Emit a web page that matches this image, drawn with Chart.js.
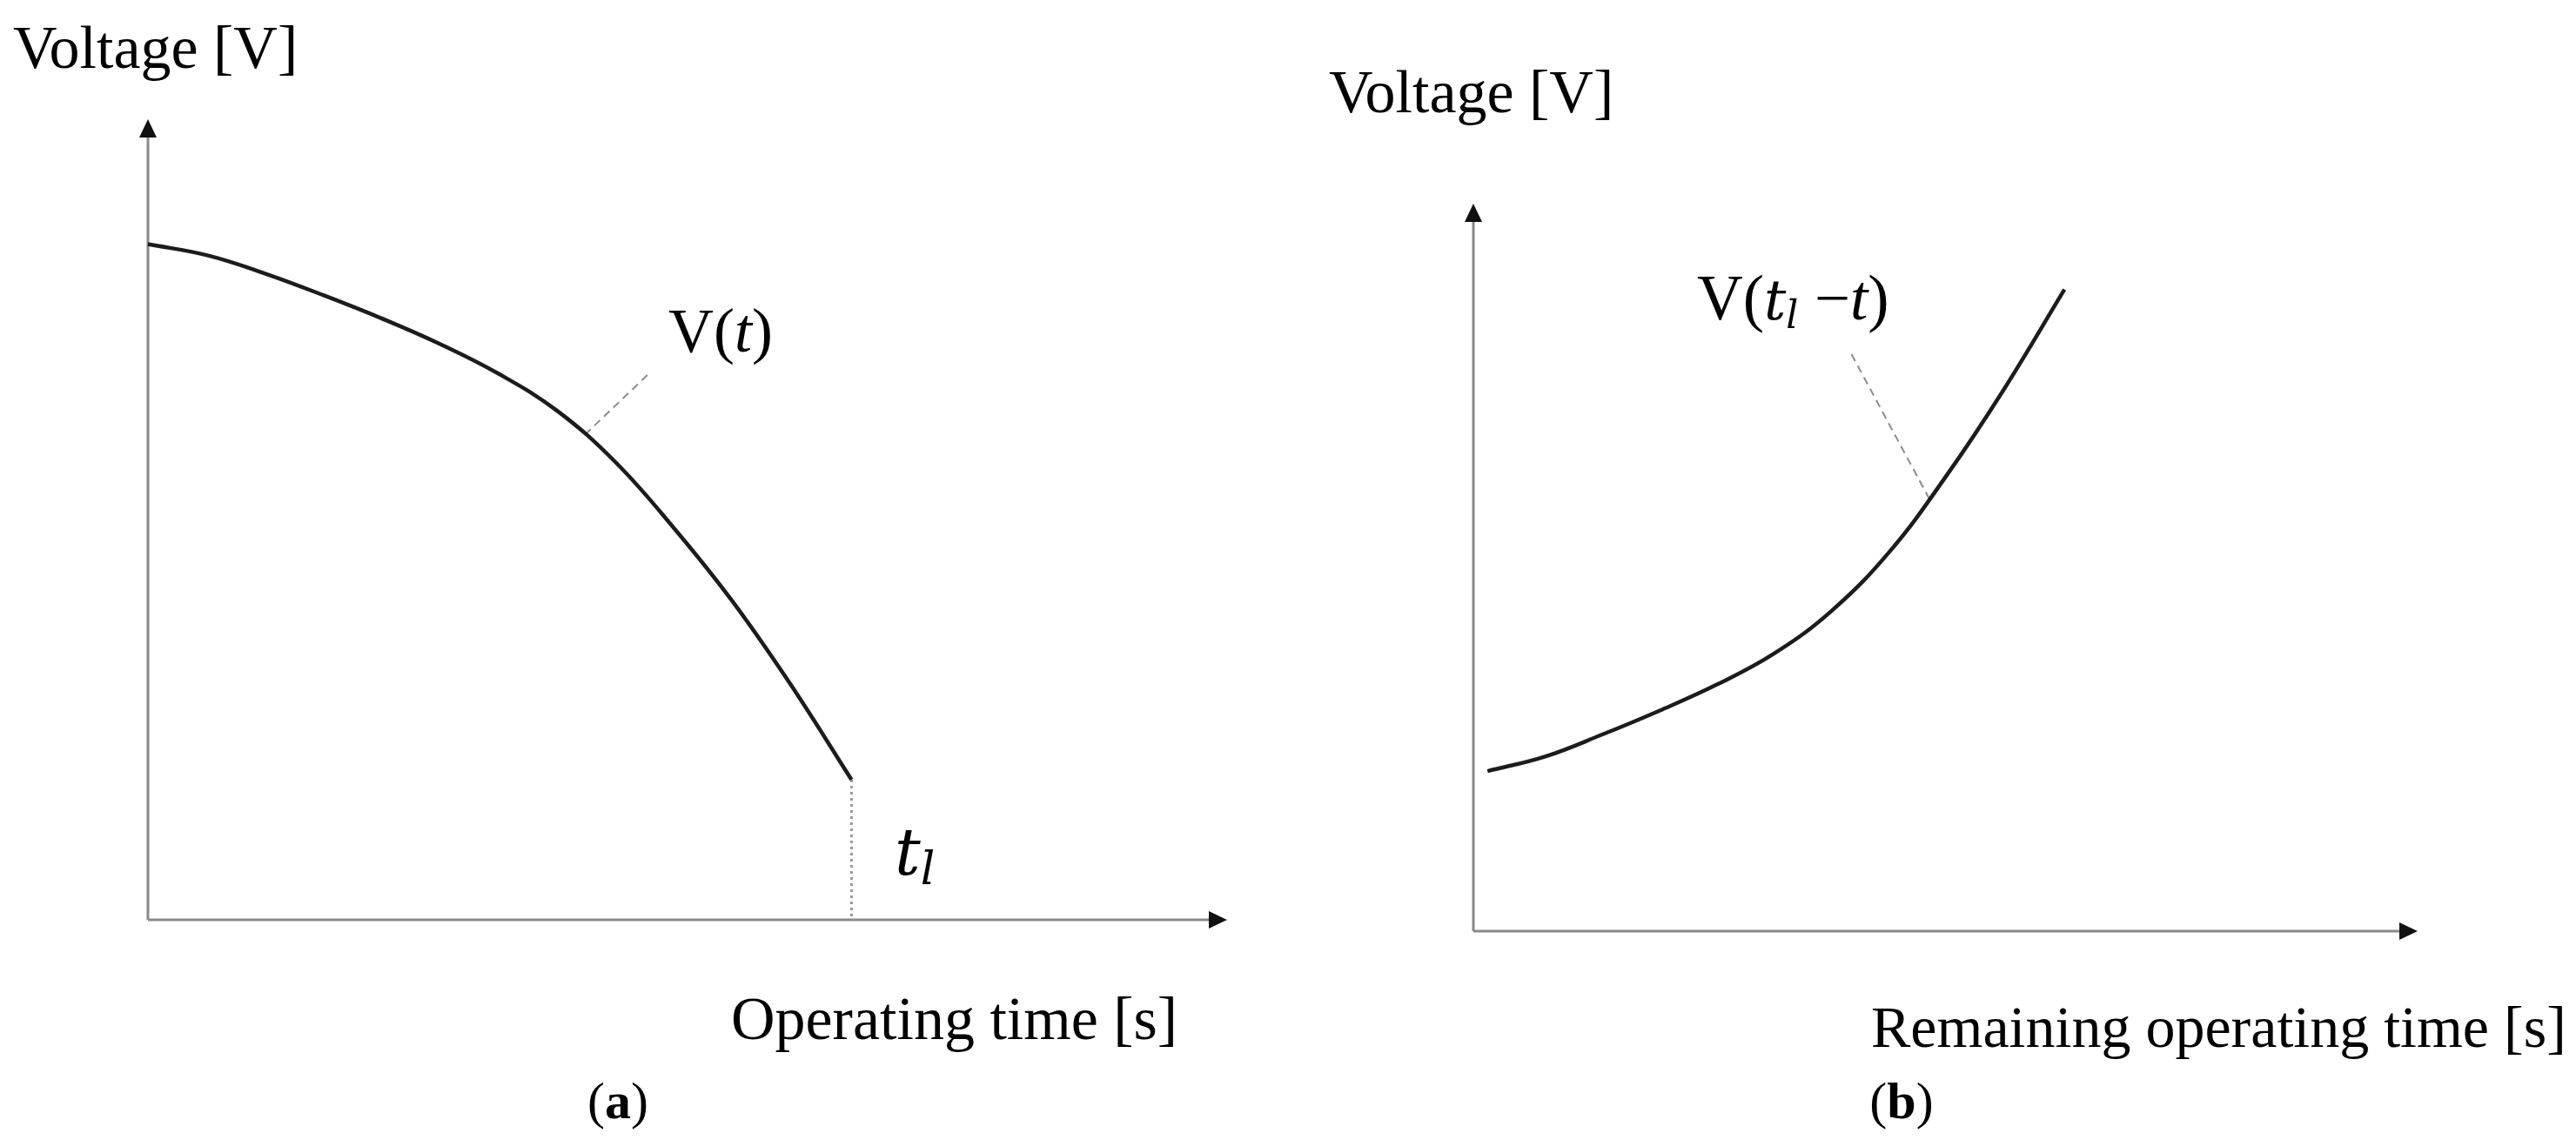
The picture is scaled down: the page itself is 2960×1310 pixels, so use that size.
<!DOCTYPE html>
<html>
<head>
<meta charset="utf-8">
<script src="https://cdn.jsdelivr.net/npm/chart.js@4.4.1/dist/chart.umd.min.js"></script>
<style>
  html, body { margin: 0; padding: 0; background: #fff; }
  #stage { position: relative; width: 2960px; height: 1310px; overflow: hidden; background: #fff; }
  .panel { position: absolute; top: 0; width: 1480px; height: 1310px; }
  .lbl { position: absolute; font-family: "Liberation Serif", "Times New Roman", serif; font-size: 70px; line-height: 1; color: #000; white-space: nowrap; }
  .math { font-family: "DejaVu Serif", serif; font-style: italic; }
  .it { font-style: italic; }
  .sub { font-size: 0.7em; position: relative; top: 0.22em; }
  .cap { font-size: 60px; transform: translateX(-50%); }
</style>
</head>
<body>
<div id="stage">
  <div class="panel" style="left:0"><canvas id="chart-a"></canvas></div>
  <div class="panel" style="left:1480px"><canvas id="chart-b"></canvas></div>

  <div class="lbl" style="left:15px; top:20px">Voltage [V]</div>
  <div class="lbl" style="left:840px; top:1136px">Operating time [s]</div>
  <div class="lbl" style="left:768px; top:344px; font-size:72px">V(<span class="it">t</span>)</div>
  <div class="lbl math" style="left:1028px; top:942px; font-size:74px">t<span class="sub">l</span></div>
  <div class="lbl cap" style="left:710px; top:1235px">(<b>a</b>)</div>

  <div class="lbl" style="left:1527px; top:71px">Voltage [V]</div>
  <div class="lbl" style="left:2150px; top:1146px; font-size:68px">Remaining operating time [s]</div>
  <div class="lbl" style="left:1950px; top:306px; font-size:73px">V(<span class="math" style="font-size:63px">t<span class="sub">l</span></span> −<span class="it">t</span>)</div>
  <div class="lbl cap" style="left:2185px; top:1235px">(<b>b</b>)</div>
</div>

<script>
'use strict';

/* ---- (a) napiecie w funkcji czasu pracy ---- */
var czasA = [0, 0.55, 1.09, 1.63, 2.17, 2.71, 3.25, 3.79, 4.33, 4.87, 5.41, 5.95, 6.52];
var napiecieA = [8.44, 8.30, 8.07, 7.80, 7.51, 7.19, 6.82, 6.36, 5.72, 4.90, 3.99, 2.95, 1.75];
var odnosnikA = [[4.05, 6.06], [4.64, 6.82]];       // kreska do etykiety V(t)
var koniecA = [[6.52, 1.75], [6.52, 0]];            // kropkowana linia t_l

/* ---- (b) napiecie w funkcji pozostalego czasu ---- */
var czasB = [0.15, 0.76, 1.36, 1.97, 2.58, 3.19, 3.80, 4.41, 5.01, 5.62, 6.26];
var napiecieB = [2.20, 2.40, 2.70, 3.03, 3.39, 3.82, 4.41, 5.22, 6.26, 7.45, 8.82];
var odnosnikB = [[4.83, 5.94], [3.98, 7.99]];

var ZAKRES = 10;

function punkty(xs, ys) {
  return xs.map(function (x, i) { return { x: x, y: ys[i] }; });
}
function pary(arr) {
  return arr.map(function (p) { return { x: p[0], y: p[1] }; });
}

// osie ze strzalkami, rysowane ze skal wykresu
var osieStrzalki = {
  id: 'osieStrzalki',
  beforeDatasetsDraw: function (chart) {
    var ctx = chart.ctx;
    var sx = chart.scales.x, sy = chart.scales.y;
    var x0 = sx.getPixelForValue(0), x1 = sx.getPixelForValue(ZAKRES);
    var y0 = sy.getPixelForValue(0), y1 = sy.getPixelForValue(ZAKRES);
    var grot = 21;
    ctx.save();
    ctx.strokeStyle = '#8a8a8a';
    ctx.lineWidth = 3;
    ctx.beginPath();
    ctx.moveTo(x0, y0); ctx.lineTo(x1 - grot + 2, y0);
    ctx.moveTo(x0, y0); ctx.lineTo(x0, y1 + grot - 2);
    ctx.stroke();
    ctx.fillStyle = '#111';
    ctx.beginPath();
    ctx.moveTo(x1, y0); ctx.lineTo(x1 - grot, y0 - 10); ctx.lineTo(x1 - grot, y0 + 10); ctx.closePath();
    ctx.fill();
    ctx.beginPath();
    ctx.moveTo(x0, y1); ctx.lineTo(x0 - 10, y1 + grot); ctx.lineTo(x0 + 10, y1 + grot); ctx.closePath();
    ctx.fill();
    ctx.restore();
  }
};

function opcje(pad) {
  return {
    responsive: true,
    maintainAspectRatio: false,
    devicePixelRatio: 1,
    animation: false,
    layout: { padding: pad },
    plugins: { legend: { display: false }, tooltip: { enabled: false } },
    scales: {
      x: { type: 'linear', min: 0, max: ZAKRES, display: false },
      y: { type: 'linear', min: 0, max: ZAKRES, display: false }
    }
  };
}

function krzywa(dane) {
  return { data: dane, borderColor: '#1c1c1c', borderWidth: 4.5, pointRadius: 0, tension: 0.4, fill: false, clip: false };
}
function kreska(dane, dash, kolor, szer) {
  return { data: dane, borderColor: kolor, borderWidth: szer, borderDash: dash, pointRadius: 0, tension: 0, fill: false, clip: false };
}

new Chart(document.getElementById('chart-a'), {
  type: 'line',
  data: {
    datasets: [
      krzywa(punkty(czasA, napiecieA)),
      kreska(pary(odnosnikA), [9, 6], '#8c8c8c', 2),
      kreska(pary(koniecA), [3, 4], '#9a9a9a', 3)
    ]
  },
  options: opcje({ left: 170, right: 70, top: 137, bottom: 253 }),
  plugins: [osieStrzalki]
});

new Chart(document.getElementById('chart-b'), {
  type: 'line',
  data: {
    datasets: [
      krzywa(punkty(czasB, napiecieB)),
      kreska(pary(odnosnikB), [9, 6], '#8c8c8c', 2)
    ]
  },
  options: opcje({ left: 213, right: 182, top: 234, bottom: 240 }),
  plugins: [osieStrzalki]
});
</script>
</body>
</html>
